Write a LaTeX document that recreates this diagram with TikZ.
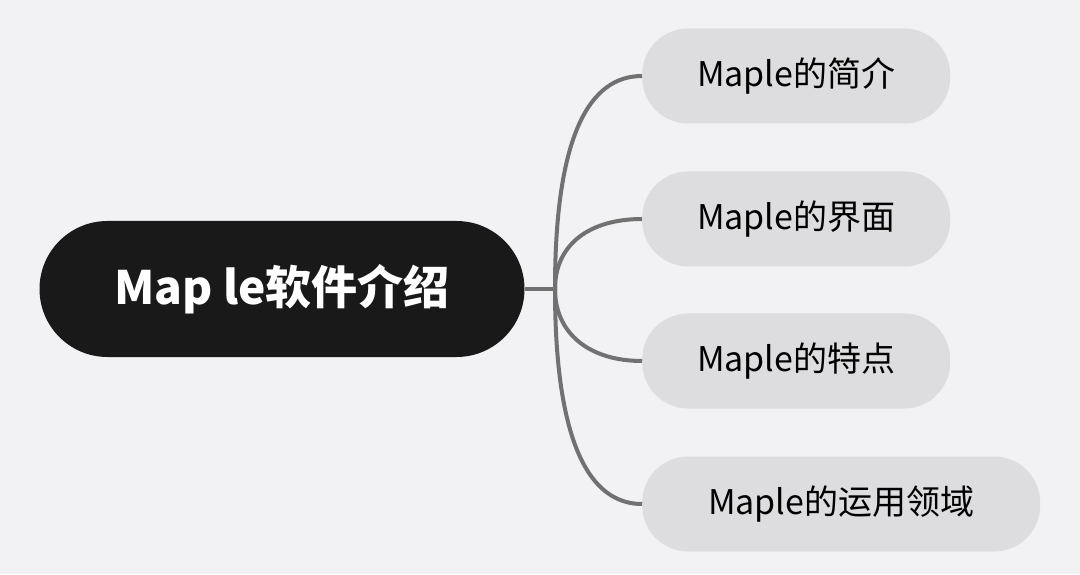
\documentclass[tikz,border=0pt]{standalone}
\usepackage{fontspec}
\setmainfont{Noto Sans CJK SC}
\newfontfamily\cjkb{Noto Sans CJK SC Bold}
\definecolor{bg}{HTML}{F2F2F4}
\definecolor{pill}{HTML}{DDDDDF}
\definecolor{ln}{HTML}{717171}
\begin{document}
\begin{tikzpicture}[x=1pt,y=1pt,
  sub/.style={fill=pill,rounded corners=46pt,minimum height=95pt,anchor=west,font=\fontsize{34}{40}\selectfont,text=black,inner xsep=0pt},
  conn/.style={draw=ln,line width=4pt}]
\fill[bg] (0,0) rectangle (1080,574);
\useasboundingbox (0,0) rectangle (1080,574);
\node[fill=black!90,rounded corners=68pt,minimum width=485pt,minimum height=136pt,text=white,font=\bfseries\fontsize{46}{54}\selectfont] (root) at (282,285) {Map le软件介绍};
\node[sub,minimum width=308pt] (a) at (642,498) {Maple的简介};
\node[sub,minimum width=308pt] (b) at (642,355) {Maple的界面};
\node[sub,minimum width=308pt] (c) at (642,213) {Maple的特点};
\node[sub,minimum width=398pt] (d) at (642,70) {Maple的运用领域};
\coordinate (j) at (555,285);
\draw[conn] (root.east) -- (j);
\draw[conn] (j) .. controls (555,440) and (590,498) .. (a.west);
\draw[conn] (j) .. controls (555,330) and (590,355) .. (b.west);
\draw[conn] (j) .. controls (555,240) and (590,213) .. (c.west);
\draw[conn] (j) .. controls (555,130) and (590,70) .. (d.west);
\end{tikzpicture}
\end{document}
